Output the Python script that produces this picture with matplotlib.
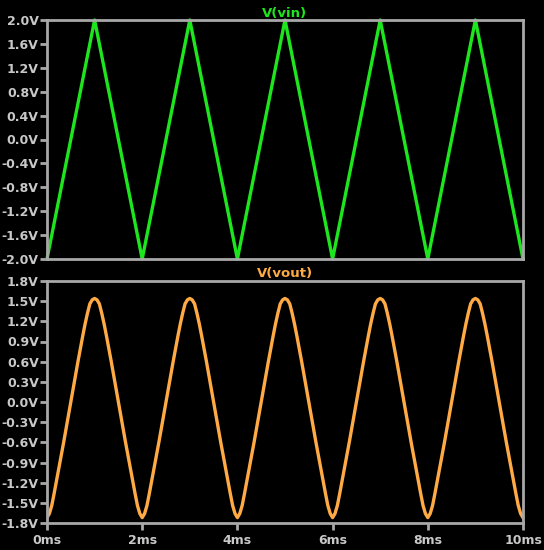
import matplotlib
matplotlib.use("Agg")
import matplotlib.pyplot as plt
import numpy as np

# input triangle wave: corner points
vin_t = [0, 1, 2, 3, 4, 5, 6, 7, 8, 9, 10]
vin_v = [-2.0, 2.0, -2.0, 2.0, -2.0, 2.0, -2.0, 2.0, -2.0, 2.0, -2.0]

# output, one period (0..2 ms, 0.05 ms steps)
period_ms = 2.0
step_ms = 0.05
vout_period = [-1.72, -1.66, -1.54, -1.36, -1.17, -0.98, -0.79, -0.60, -0.40, -0.20,
               0.00, 0.20, 0.40, 0.60, 0.79, 0.98, 1.16, 1.32, 1.46, 1.52,
               1.54,
               1.52, 1.46, 1.32, 1.16, 0.98, 0.79, 0.60, 0.40, 0.20, 0.00,
               -0.20, -0.40, -0.60, -0.79, -0.98, -1.17, -1.36, -1.54, -1.66,
               -1.72]
n_periods = 5

vin_ticks = [-2.0, -1.6, -1.2, -0.8, -0.4, 0.0, 0.4, 0.8, 1.2, 1.6, 2.0]
vout_ticks = [-1.8, -1.5, -1.2, -0.9, -0.6, -0.3, 0.0, 0.3, 0.6, 0.9, 1.2, 1.5, 1.8]
t_ticks = [0, 2, 4, 6, 8, 10]

GREEN = '#1ee61e'
ORANGE = '#ffaa44'
AXIS = '#a8a8a8'
TEXT = '#c8c8c8'

vout_v = np.concatenate([vout_period[:-1]] * n_periods + [vout_period[-1:]])
vout_t = np.arange(len(vout_v)) * step_ms


def style_axes(ax, ticks, lim):
    ax.set_facecolor('black')
    for s in ax.spines.values():
        s.set_color(AXIS)
        s.set_linewidth(2)
    ax.set_xlim(0, 10)
    ax.set_ylim(*lim)
    ax.set_yticks(ticks)
    ax.set_yticklabels([f"{v:.1f}V" for v in ticks])
    ax.tick_params(axis='y', colors=AXIS, labelcolor=TEXT, width=2, length=5,
                   labelsize=9, pad=1)
    for lab in ax.get_yticklabels():
        lab.set_fontweight('bold')


fig = plt.figure(figsize=(5.44, 5.5), dpi=100, facecolor='black')
ax1 = fig.add_axes([47 / 544, 1 - 259 / 550, 476 / 544, 239 / 550])
ax2 = fig.add_axes([47 / 544, 1 - 523 / 550, 476 / 544, 242 / 550])

ax1.plot(vin_t, vin_v, color=GREEN, lw=2.4, solid_joinstyle='round', clip_on=False)
style_axes(ax1, vin_ticks, (-2.0, 2.0))
ax1.set_xticks([])
ax1.set_title('V(vin)', color=GREEN, fontsize=9.5, fontweight='bold', pad=2)

ax2.plot(vout_t, vout_v, color=ORANGE, lw=2.4, solid_joinstyle='round')
style_axes(ax2, vout_ticks, (-1.8, 1.8))
ax2.set_xticks(t_ticks)
ax2.set_xticklabels([f"{t}ms" for t in t_ticks])
ax2.tick_params(axis='x', colors=AXIS, labelcolor=TEXT, width=2, length=5,
                labelsize=9, pad=3)
for lab in ax2.get_xticklabels():
    lab.set_fontweight('bold')
ax2.set_title('V(vout)', color=ORANGE, fontsize=9.5, fontweight='bold', pad=3)

fig.savefig('out.png', dpi=100, facecolor='black')
